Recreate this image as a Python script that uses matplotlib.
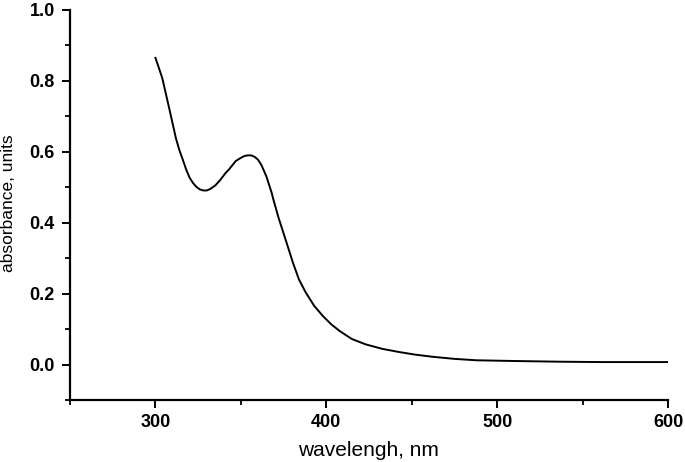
import matplotlib
matplotlib.use("Agg")
import matplotlib.pyplot as plt
from matplotlib.ticker import MultipleLocator

plt.rcParams['font.family'] = ['Liberation Sans', 'DejaVu Sans']

wavelength = [300, 302, 304, 306, 308, 310, 312, 314, 316, 318, 320, 322, 324, 326, 328,
              330, 332, 335, 338, 341, 343, 345, 347, 350, 352, 354, 356, 358, 360, 362, 363,
              365, 366, 368, 369, 371, 372, 374, 375, 378, 380.5, 384, 388, 393, 398,
              403, 408, 415, 423, 433, 443, 452, 462, 475, 488, 510, 537, 560, 600]
absorbance = [0.865, 0.837, 0.808, 0.766, 0.724, 0.681, 0.638, 0.605, 0.578, 0.550,
              0.527, 0.512, 0.501, 0.494, 0.491, 0.491, 0.495, 0.505, 0.521, 0.540,
              0.550, 0.562, 0.574, 0.583, 0.588, 0.590, 0.590, 0.586, 0.578, 0.563,
              0.552, 0.530, 0.515, 0.485, 0.466, 0.432, 0.415, 0.385, 0.370, 0.325,
              0.287, 0.240, 0.203, 0.165, 0.137, 0.113, 0.094, 0.072, 0.057, 0.044,
              0.035, 0.028, 0.022, 0.016, 0.012, 0.010, 0.008, 0.007, 0.007]

x_major = [300, 400, 500, 600]
y_major = [0.0, 0.2, 0.4, 0.6, 0.8, 1.0]

fig = plt.figure(figsize=(6.85, 4.62), dpi=100)
ax = fig.add_axes([70/685, 1 - 400/462, (668-70)/685, (400-10)/462])

ax.plot(wavelength, absorbance, color='black', lw=1.4)

ax.set_xlim(250, 600)
ax.set_ylim(-0.1, 1.0)
ax.set_xticks(x_major)
ax.set_yticks(y_major)
ax.set_yticklabels([f"{v:.1f}" for v in y_major])
ax.xaxis.set_minor_locator(MultipleLocator(50))
ax.yaxis.set_minor_locator(MultipleLocator(0.1))

for s in ['top', 'right']:
    ax.spines[s].set_visible(False)
for s in ['left', 'bottom']:
    ax.spines[s].set_linewidth(1.6)

ax.tick_params(which='major', direction='out', length=6, width=1.4, labelsize=13)
ax.tick_params(which='minor', direction='out', length=3.5, width=1.3)
ax.tick_params(axis='y', which='major', pad=5)
ax.tick_params(axis='x', which='major', pad=4)
for lbl in ax.get_xticklabels() + ax.get_yticklabels():
    lbl.set_fontweight('bold')

ax.set_xlabel("wavelengh, nm", fontsize=15)
ax.xaxis.set_label_coords((368-70)/(668-70), -(441-400)/390)
ax.set_ylabel("absorbance, units", fontsize=12.5)
ax.yaxis.set_label_coords(-(70-16)/598, (400-203)/390)

fig.savefig("out.png", dpi=100)
